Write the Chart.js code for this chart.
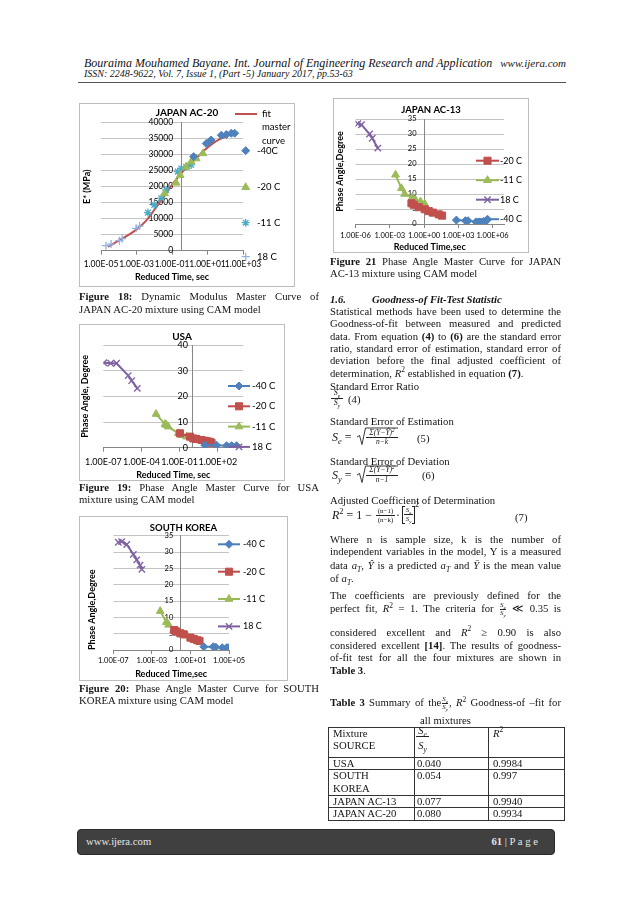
<!DOCTYPE html>
<html><head><meta charset="utf-8">
<script src="https://cdn.jsdelivr.net/npm/chart.js@4.4.1/dist/chart.umd.min.js"></script>
<style>
html,body{margin:0;padding:0;background:#fff}
body{width:638px;height:902px;position:relative;overflow:hidden;font-family:"Liberation Serif","Times New Roman",serif;color:#141414}
.t{position:absolute;font-size:10.7px;line-height:13px;height:13px;white-space:nowrap}
.L{left:79px;width:240px}
.R{left:330px;width:231px}
.j{text-align:justify;text-align-last:justify;white-space:normal}
.ab{position:absolute;white-space:nowrap}
.box{position:absolute;background:#fff}
.box canvas{position:absolute;left:0;top:0}
.box::after{content:"";position:absolute;left:0;top:0;right:0;bottom:0;border:1px solid #bdbdbd;pointer-events:none}
sub,sup{font-size:70%;line-height:0}
.fr{display:inline-flex;flex-direction:column;vertical-align:middle;font-style:italic;font-size:7px;line-height:7.5px;text-align:center;margin:0 1px}
.fr>span:first-child{border-bottom:0.7px solid #222}
.stk{position:absolute;text-align:center;font-style:italic}
.stk>div:first-child{border-bottom:0.8px solid #222}
.hl{position:absolute;height:1px;background:#333}
.vl{position:absolute;width:1px;background:#333}
</style></head>
<body>

<!-- header -->
<div class="ab" style="left:84px;top:55px;font-size:12px;line-height:16px;font-style:italic">Bouraima Mouhamed Bayane. Int. Journal of Engineering Research and Application</div>
<div class="ab" style="left:496px;width:70px;top:56px;font-size:11px;line-height:15px;font-style:italic;text-align:right">www.ijera.com</div>
<div class="ab" style="left:84px;top:67px;font-size:10px;line-height:14px;font-style:italic">ISSN: 2248-9622, Vol. 7, Issue 1, (Part -5) January 2017, pp.53-63</div>
<div class="ab" style="left:78px;top:82px;width:488px;height:1px;background:#555"></div>

<!-- charts -->
<div class="box" style="left:79px;top:103px;width:216px;height:184px"><canvas id="c1" width="216" height="184"></canvas></div>
<div class="box" style="left:79px;top:324px;width:206px;height:157px"><canvas id="c2" width="206" height="157"></canvas></div>
<div class="box" style="left:79px;top:516px;width:209px;height:165px"><canvas id="c3" width="209" height="165"></canvas></div>
<div class="box" style="left:333px;top:98px;width:196px;height:155px"><canvas id="c4" width="196" height="155"></canvas></div>

<!-- left column captions -->
<div class="t L j" style="top:289.5px"><b>Figure 18:</b> Dynamic Modulus Master Curve of</div>
<div class="t L" style="top:302.5px">JAPAN AC-20 mixture using CAM model</div>
<div class="t L j" style="top:480.5px"><b>Figure 19:</b> Phase Angle Master Curve for USA</div>
<div class="t L" style="top:493px">mixture using CAM model</div>
<div class="t L j" style="top:681.5px"><b>Figure 20:</b> Phase Angle Master Curve for SOUTH</div>
<div class="t L" style="top:693.5px">KOREA mixture using CAM model</div>

<!-- right column -->
<div class="t R j" style="top:254.5px"><b>Figure 21</b> Phase Angle Master Curve for JAPAN</div>
<div class="t R" style="top:267px">AC-13 mixture using CAM model</div>
<div class="t" style="left:330px;top:292.5px"><b><i>1.6.</i></b></div>
<div class="t" style="left:372px;top:292.5px"><b><i>Goodness-of Fit-Test Statistic</i></b></div>
<div class="t R j" style="top:305px">Statistical methods have been used to determine the</div>
<div class="t R j" style="top:317.3px">Goodness-of-fit between measured and predicted</div>
<div class="t R j" style="top:329.5px">data. From equation <b>(4)</b> to <b>(6)</b> are the standard error</div>
<div class="t R j" style="top:341.8px">ratio, standard error of estimation, standard error of</div>
<div class="t R j" style="top:354.1px">deviation before the final adjusted coefficient of</div>
<div class="t R" style="top:366.5px">determination, <i>R</i><sup>2</sup> established in equation <b>(7)</b>.</div>
<div class="t R" style="top:380px">Standard Error Ratio</div>
<!-- eq 4 -->
<div class="stk" style="left:331px;top:389px;width:12px;font-size:8px;line-height:8.5px"><div>S<sub>e</sub></div><div>S<sub>y</sub></div></div>
<div class="t" style="left:348px;top:392.5px">(4)</div>
<div class="t R" style="top:415px">Standard Error of Estimation</div>
<!-- eq 5 -->
<div class="ab" style="left:332px;top:429px;font-size:12px;line-height:16px"><i>S</i><sub><i>e</i></sub> =</div>
<svg class="ab" style="left:356px;top:426px" width="44" height="20"><polyline points="1,11 3.5,9.5 6,18.5 9.5,2 42,2" fill="none" stroke="#222" stroke-width="0.9"/></svg>
<div class="stk" style="left:366px;top:428.5px;width:32px;font-size:7.5px;line-height:8.5px"><div>Σ(Y−Ŷ)<sup>2</sup></div><div>n−k</div></div>
<div class="t" style="left:417px;top:431.5px">(5)</div>
<div class="t R" style="top:455px">Standard Error of Deviation</div>
<!-- eq 6 -->
<div class="ab" style="left:332px;top:467px;font-size:12px;line-height:16px"><i>S</i><sub><i>y</i></sub> =</div>
<svg class="ab" style="left:356px;top:464px" width="44" height="20"><polyline points="1,11 3.5,9.5 6,18.5 9.5,2 42,2" fill="none" stroke="#222" stroke-width="0.9"/></svg>
<div class="stk" style="left:366px;top:466px;width:32px;font-size:7.5px;line-height:8.5px"><div>Σ(Y−Ȳ)<sup>2</sup></div><div>n−1</div></div>
<div class="t" style="left:422px;top:468.5px">(6)</div>
<div class="t R" style="top:493.5px">Adjusted Coefficient of Determination</div>
<!-- eq 7 -->
<div class="ab" style="left:332px;top:507px;font-size:12px;line-height:16px"><i>R</i><sup>2</sup> = 1 −</div>
<div class="stk" style="left:376px;top:507px;width:19px;font-size:7px;line-height:8px;font-style:normal"><div>(n−1)</div><div>(n−k)</div></div>
<div class="ab" style="left:396px;top:507px;font-size:12px;line-height:16px">·</div>
<div class="ab" style="left:402px;top:506px;width:2px;height:16px;border:0.9px solid #222;border-right:none"></div>
<div class="stk" style="left:404px;top:506px;width:9px;font-size:7px;line-height:8px"><div>S<sub>e</sub></div><div>S<sub>y</sub></div></div>
<div class="ab" style="left:412px;top:506px;width:2px;height:16px;border:0.9px solid #222;border-left:none"></div>
<div class="ab" style="left:415px;top:500px;font-size:8px;line-height:10px">2</div>
<div class="t" style="left:515px;top:510.5px">(7)</div>

<div class="t R j" style="top:532.5px">Where n is sample size, k is the number of</div>
<div class="t R j" style="top:545px">independent variables in the model, Y is a measured</div>
<div class="t R j" style="top:559px">data <i>a<sub>T</sub></i>, <i>Ŷ</i> is a predicted <i>a<sub>T</sub></i> and <i>Ȳ</i> is the mean value</div>
<div class="t R" style="top:572px">of <i>a<sub>T</sub></i>.</div>
<div class="t R j" style="top:588.5px">The coefficients are previously defined for the</div>
<div class="t R j" style="top:601.5px">perfect fit, <i>R</i><sup>2</sup> = 1. The criteria for <span class="fr"><span>S<sub>e</sub></span><span>S<sub>y</sub></span></span> ≪ 0.35 is</div>
<div class="t R j" style="top:625.5px">considered excellent and <i>R</i><sup>2</sup> ≥ 0.90 is also</div>
<div class="t R j" style="top:638.5px">considered excellent <b>[14]</b>. The results of goodness-</div>
<div class="t R j" style="top:651px">of-fit test for all the four mixtures are shown in</div>
<div class="t R" style="top:664px"><b>Table 3</b>.</div>
<div class="t R j" style="top:695.5px"><b>Table 3</b> Summary of the<span class="fr"><span>S<sub>e</sub></span><span>S<sub>y</sub></span></span>, <i>R</i><sup>2</sup> Goodness-of –fit for</div>
<div class="t R" style="top:713.5px;text-align:center">all mixtures</div>

<!-- table -->
<div class="hl" style="left:328px;top:727px;width:237px"></div>
<div class="hl" style="left:328px;top:757px;width:237px"></div>
<div class="hl" style="left:328px;top:769px;width:237px"></div>
<div class="hl" style="left:328px;top:795px;width:237px"></div>
<div class="hl" style="left:328px;top:807px;width:237px"></div>
<div class="hl" style="left:328px;top:820px;width:237px"></div>
<div class="vl" style="left:328px;top:727px;height:94px"></div>
<div class="vl" style="left:414px;top:727px;height:94px"></div>
<div class="vl" style="left:488px;top:727px;height:94px"></div>
<div class="vl" style="left:564px;top:727px;height:94px"></div>
<div class="t" style="left:333px;top:727px">Mixture</div>
<div class="t" style="left:333px;top:739px">SOURCE</div>
<div class="stk" style="left:416px;top:725px;width:13px;font-size:10.5px;line-height:11px"><div>S<sub>e</sub></div><div style="padding-top:3px">S<sub>y</sub></div></div>
<div class="t" style="left:493px;top:727px"><i>R</i><sup>2</sup></div>
<div class="t" style="left:333px;top:756.5px">USA</div>
<div class="t" style="left:417px;top:756.5px">0.040</div>
<div class="t" style="left:493px;top:756.5px">0.9984</div>
<div class="t" style="left:333px;top:768.5px">SOUTH</div>
<div class="t" style="left:333px;top:781.5px">KOREA</div>
<div class="t" style="left:417px;top:768.5px">0.054</div>
<div class="t" style="left:493px;top:768.5px">0.997</div>
<div class="t" style="left:333px;top:794.5px">JAPAN AC-13</div>
<div class="t" style="left:417px;top:794.5px">0.077</div>
<div class="t" style="left:493px;top:794.5px">0.9940</div>
<div class="t" style="left:333px;top:807px">JAPAN AC-20</div>
<div class="t" style="left:417px;top:807px">0.080</div>
<div class="t" style="left:493px;top:807px">0.9934</div>

<!-- footer -->
<div class="ab" style="left:77px;top:829px;width:478px;height:26px;background:#404040;border:1px solid #2a2a2a;border-radius:4px;box-sizing:border-box"></div>
<div class="ab" style="left:86px;top:835px;font-size:10.7px;line-height:13px;color:#e6e6e6">www.ijera.com</div>
<div class="ab" style="left:440px;width:98px;top:835px;font-size:10.7px;line-height:13px;color:#e6e6e6;text-align:right"><b>61</b> | P a g e</div>

<script>
// ---------------- DATA ----------------
// Figure 18: JAPAN AC-20, dynamic modulus E* (MPa) vs reduced time (s)
const ac20FitTime = [2.4e-5, 4.6e-5, 1.1e-4, 4.0e-4, 1.2e-3, 3.5e-3, 1.0e-2, 3.0e-2, 8.9e-2, 0.27, 0.79, 2.3, 6.9, 20, 60, 180, 430];
const ac20FitE    = [1250, 2080, 3330, 5100, 6980, 9380, 12710, 16360, 20210, 23650, 26460, 28860, 31470, 33550, 35110, 36150, 36680];
const ac20M40Time = [1.66, 8.5, 13, 16, 60, 115, 220, 340];
const ac20M40E    = [29400, 33500, 34100, 34600, 36100, 36300, 36700, 36700];
const ac20M20Time = [0.038, 0.17, 0.29, 0.63, 1.2, 2.3, 5.5];
const ac20M20E    = [17900, 21200, 23600, 26200, 27800, 28800, 30400];
const ac20M11Time = [4.4e-3, 1.0e-2, 2.5e-2, 4.7e-2, 0.21, 0.33, 0.63, 1.2];
const ac20M11E    = [11900, 14300, 16400, 19000, 24700, 25700, 26200, 26800];
const ac20P18Time = [1.9e-5, 3.7e-5, 1.1e-4, 1.55e-4, 9.5e-4, 1.5e-3];
const ac20P18E    = [1560, 2080, 3130, 3750, 6980, 7710];
const ac20XTicks  = ['1.00E-05', '1.00E-03', '1.00E-01', '1.00E+01', '1.00E+03'];
const ac20YTicks  = ['0', '5000', '10000', '15000', '20000', '25000', '30000', '35000', '40000'];

// Figure 19: USA, phase angle (degree) vs reduced time (s)
const usaM40Time = [9.5, 79, 490, 1200, 2950];
const usaM40Deg  = [1.0, 1.0, 0.8, 0.8, 0.8];
const usaM20Time = [0.105, 0.65, 1.17, 2.0, 5.2, 9.5, 14, 24, 32];
const usaM20Deg  = [5.6, 4.3, 3.6, 3.4, 3.0, 2.7, 2.5, 2.3, 1.9];
const usaM11Time = [1.4e-3, 7.1e-3, 9.3e-3, 1.26e-2, 7.8e-2, 0.14, 0.35];
const usaM11Deg  = [13.1, 9.2, 8.8, 8.2, 5.6, 4.9, 4.3];
const usaP18Time = [1.1e-7, 3.8e-7, 1.1e-6, 9.1e-6, 1.7e-5, 4.7e-5];
const usaP18Deg  = [33.1, 32.9, 32.9, 28.1, 26.1, 23.1];
const usaXTicks  = ['1.00E-07', '1.00E-04', '1.00E-01', '1.00E+02'];
const usaYTicks  = ['0', '10', '20', '30', '40'];

// Figure 20: SOUTH KOREA
const skM40Time = [245, 2300, 4100, 2.0e4, 5.8e4, 7.9e4];
const skM40Deg  = [1.0, 1.0, 0.9, 0.7, 0.7, 0.7];
const skM20Time = [0.21, 0.37, 0.91, 2.0, 10, 22, 50, 87];
const skM20Deg  = [6.1, 5.6, 5.1, 4.8, 3.8, 3.4, 3.0, 2.8];
const skM11Time = [7.4e-3, 3.2e-2, 5.5e-2, 0.60, 1.35, 4.5];
const skM11Deg  = [11.9, 8.5, 7.7, 5.6, 4.8, 4.4];
const skP18Time = [3.3e-7, 7.4e-7, 2.5e-6, 1.2e-5, 2.7e-5, 6.0e-5, 9.1e-5];
const skP18Deg  = [33.0, 33.2, 32.3, 29.3, 27.6, 26.0, 24.7];
const skXTicks  = ['1.00E-07', '1.00E-03', '1.00E+01', '1.00E+05'];
const skYTicks  = ['0', '5', '10', '15', '20', '25', '30', '35'];

// Figure 21: JAPAN AC-13
const ac13M20Time = [7.9e-2, 0.126, 0.35, 1.15, 2.6, 5.8, 19.5, 38];
const ac13M20Deg  = [6.9, 6.4, 5.6, 4.9, 4.3, 3.8, 3.2, 2.8];
const ac13M11Time = [3.2e-3, 1.05e-2, 2.0e-2, 9.1e-2, 0.18, 0.49, 1.15];
const ac13M11Deg  = [16.4, 11.9, 10.0, 8.8, 8.0, 7.5, 6.7];
const ac13P18Time = [1.6e-6, 3.3e-6, 1.7e-5, 2.9e-5, 8.9e-5];
const ac13P18Deg  = [33.4, 33.1, 30.0, 28.6, 25.3];
const ac13M40Time = [680, 4200, 7100, 3.5e4, 7.1e4, 1.66e5, 3.3e5];
const ac13M40Deg  = [1.3, 1.1, 1.1, 0.7, 0.7, 0.9, 1.3];
const ac13XTicks  = ['1.00E-06', '1.00E-03', '1.00E+00', '1.00E+03', '1.00E+06'];
const ac13YTicks  = ['0', '5', '10', '15', '20', '25', '30', '35'];

// ---------------- STYLE ----------------
const FONT = 'Lato, "Liberation Sans", sans-serif';
const AXIS = '#868686';
const GRID = '#c4c4c4';

function pts(xs, ys) { return xs.map((x, i) => ({x: x, y: ys[i]})); }

function drawMark(ctx, ds, x, y) {
  const st = ds.pointStyle, r = ds.pointRadius;
  ctx.save();
  ctx.fillStyle = ds.pointBackgroundColor || ds.backgroundColor;
  ctx.strokeStyle = ds.pointBorderColor || ds.borderColor;
  ctx.lineWidth = ds.pointBorderWidth || 1;
  if (Chart.helpers && Chart.helpers.drawPoint) {
    Chart.helpers.drawPoint(ctx, {pointStyle: st, radius: r, rotation: 0, borderWidth: ctx.lineWidth}, x, y);
  }
  ctx.restore();
}

const excelLegend = {
  id: 'excelLegend',
  afterDatasetsDraw(chart, args, o) {
    if (!o || !o.items) return;
    const ctx = chart.ctx;
    ctx.save();
    ctx.font = o.size + 'px ' + FONT;
    ctx.fillStyle = '#000';
    ctx.textBaseline = 'middle';
    ctx.textAlign = 'left';
    o.items.forEach(it => {
      const ds = chart.data.datasets[it.ds];
      const x0 = it.x0 !== undefined ? it.x0 : o.x0;
      const x1 = it.x1 !== undefined ? it.x1 : o.x1;
      if (it.line !== false && ds.showLine) {
        ctx.save();
        ctx.strokeStyle = ds.borderColor; ctx.lineWidth = ds.borderWidth;
        ctx.beginPath(); ctx.moveTo(x0, it.y); ctx.lineTo(x1, it.y); ctx.stroke();
        ctx.restore();
      }
      if (ds.pointRadius > 0) drawMark(ctx, ds, (x0 + x1) / 2, it.y);
      const tx = it.tx !== undefined ? it.tx : o.tx;
      const lines = it.wrap ? ds.label.split(' ') : [ds.label];
      lines.forEach((s, k) => ctx.fillText(s, tx, it.y + k * (it.lh || 0)));
    });
    ctx.restore();
  }
};

function makeChart(id, o) {
  return new Chart(document.getElementById(id), {
    type: 'scatter',
    data: {datasets: o.datasets},
    options: {
      responsive: false, maintainAspectRatio: false, animation: false, events: [],
      layout: {padding: 0},
      plugins: {
        legend: {display: false}, tooltip: {enabled: false},
        title: {display: true, text: o.title, color: '#000', font: {family: FONT, size: o.titleSize, weight: 'bold', lineHeight: 1.2},
                padding: {top: o.tTop, bottom: o.tBot}},
        excelLegend: o.legend
      },
      scales: {
        x: {
          type: 'logarithmic', position: 'bottom', min: o.xMin, max: o.xMax,
          afterBuildTicks: s => { s.ticks = o.xTicks.map(l => ({value: parseFloat(l)})); },
          afterFit: s => { s.height = o.xH; },
          ticks: {autoSkip: false, maxRotation: 0, minRotation: 0, color: '#000', padding: o.xTickPad,
                  font: {family: FONT, size: o.tick, lineHeight: 1.2}, callback: (v, i) => o.xTicks[i]},
          grid: {drawOnChartArea: false, drawTicks: true, tickLength: 4, color: AXIS},
          border: {color: AXIS},
          title: {display: true, text: o.xTitle, color: '#000', font: {family: FONT, size: 9, weight: 'bold', lineHeight: 1.2},
                  padding: {top: 0, bottom: o.xTitlePad}}
        },
        y: {
          type: 'linear', position: {x: o.cross}, min: o.yMin, max: o.yMax,
          afterBuildTicks: s => { s.ticks = o.yTicks.map(l => ({value: parseFloat(l)})); },
          ticks: {color: '#000', padding: 5, font: {family: FONT, size: o.tick}, callback: (v, i) => o.yTicks[i] + o.yGap},
          grid: {color: GRID, drawTicks: true, tickLength: 3},
          border: {color: AXIS}
        },
        yt: {
          type: 'linear', position: 'left', ticks: {display: false}, grid: {display: false}, border: {display: false},
          afterFit: s => { s.width = o.L; },
          title: {display: true, text: o.yTitle, align: o.yAlign || 'center', color: '#000',
                  font: {family: FONT, size: 9, weight: 'bold', lineHeight: 1.2}, padding: {top: o.yTitlePad, bottom: 0}}
        },
        yr: {
          type: 'linear', position: 'right', ticks: {display: false}, grid: {display: false}, border: {display: false},
          afterFit: s => { s.width = o.R; }
        }
      }
    },
    plugins: [excelLegend]
  });
}

function phaseSet(label, xs, ys, kind) {
  const k = {
    m40: {c: '#4A7EBB', f: '#4F81BD', s: 'rectRot', r: 4},
    m20: {c: '#BE4B48', f: '#C0504D', s: 'rect', r: 5},
    m11: {c: '#98B954', f: '#9BBB59', s: 'triangle', r: 4.5},
    p18: {c: '#7D60A0', f: '#8064A2', s: 'crossRot', r: 4.5}
  }[kind];
  return {label: label, data: pts(xs, ys), showLine: true, borderColor: k.c, backgroundColor: k.f, borderWidth: 2,
          pointStyle: k.s, pointRadius: k.r, pointBackgroundColor: k.f, pointBorderColor: k.f,
          pointBorderWidth: kind === 'p18' ? 1.4 : 1, xAxisID: 'x', yAxisID: 'y'};
}

// Figure 18
makeChart('c1', {
  title: 'JAPAN AC-20', titleSize: 10, tTop: 3.7, tBot: 4,
  L: 22, R: 52, xH: 36.3, xTickPad: 4, xTitlePad: 4.9, tick: 8.5, yTitlePad: 2.3, yGap: '\u2002\u2002',
  xMin: 1e-5, xMax: 1e3, xTicks: ac20XTicks, yMin: 0, yMax: 40000, yTicks: ac20YTicks, cross: 0.35,
  xTitle: 'Reduced Time, sec', yTitle: 'E* (MPa)',
  datasets: [
    {label: 'fit master curve', data: pts(ac20FitTime, ac20FitE), showLine: true, borderColor: '#C0504D', borderWidth: 2,
     pointRadius: 0, tension: 0.4, order: 5, xAxisID: 'x', yAxisID: 'y'},
    {label: '-40C', data: pts(ac20M40Time, ac20M40E), pointStyle: 'rectRot', pointRadius: 4, backgroundColor: '#4F81BD',
     borderColor: '#4F81BD', pointBackgroundColor: '#4F81BD', pointBorderColor: '#4F81BD', pointBorderWidth: 1, xAxisID: 'x', yAxisID: 'y'},
    {label: '-20 C', data: pts(ac20M20Time, ac20M20E), pointStyle: 'triangle', pointRadius: 4.5, backgroundColor: '#9BBB59',
     borderColor: '#9BBB59', pointBackgroundColor: '#9BBB59', pointBorderColor: '#9BBB59', pointBorderWidth: 1, xAxisID: 'x', yAxisID: 'y'},
    {label: '-11 C', data: pts(ac20M11Time, ac20M11E), pointStyle: 'star', pointRadius: 4, backgroundColor: '#4BACC6',
     borderColor: '#4BACC6', pointBackgroundColor: '#4BACC6', pointBorderColor: '#4BACC6', pointBorderWidth: 1.3, xAxisID: 'x', yAxisID: 'y'},
    {label: '18 C', data: pts(ac20P18Time, ac20P18E), pointStyle: 'cross', pointRadius: 4, backgroundColor: '#8EB4E3',
     borderColor: '#8EB4E3', pointBackgroundColor: '#8EB4E3', pointBorderColor: '#8EB4E3', pointBorderWidth: 1.3, xAxisID: 'x', yAxisID: 'y'}
  ],
  legend: {size: 9.5, x0: 161.7, x1: 171.7, tx: 178, items: [
    {ds: 0, y: 11, x0: 156, x1: 178, tx: 183, wrap: true, lh: 13.3},
    {ds: 1, y: 47.7}, {ds: 2, y: 84.3}, {ds: 3, y: 119.7}, {ds: 4, y: 153.7}
  ]}
});

// Figure 19
makeChart('c2', {
  title: 'USA', titleSize: 10, tTop: 6.7, tBot: 2.3,
  L: 24.3, R: 41.7, xH: 33.3, xTickPad: 4.6, xTitlePad: 0.6, tick: 9, yTitlePad: 0.6, yGap: '\u2002',
  xMin: 1e-7, xMax: 1e4, xTicks: usaXTicks, yMin: 0, yMax: 40, yTicks: usaYTicks, cross: 1,
  xTitle: 'Reduced Time, sec', yTitle: 'Phase Angle, Degree',
  datasets: [
    phaseSet('-40 C', usaM40Time, usaM40Deg, 'm40'),
    phaseSet('-20 C', usaM20Time, usaM20Deg, 'm20'),
    phaseSet('-11 C', usaM11Time, usaM11Deg, 'm11'),
    phaseSet('18 C', usaP18Time, usaP18Deg, 'p18')
  ],
  legend: {size: 9.5, x0: 149, x1: 171, tx: 173, items: [
    {ds: 0, y: 62}, {ds: 1, y: 82.3}, {ds: 2, y: 102.6}, {ds: 3, y: 122.9}
  ]}
});

// Figure 20
makeChart('c3', {
  title: 'SOUTH KOREA', titleSize: 9.5, tTop: 6.6, tBot: 1.7,
  L: 34.3, R: 59, xH: 31, xTickPad: 2.2, xTitlePad: 1.3, tick: 7.5, yTitlePad: 7.3, yAlign: 'start', yGap: '\u2002\u2002',
  xMin: 1e-7, xMax: 1e5, xTicks: skXTicks, yMin: 0, yMax: 35, yTicks: skYTicks, cross: 1,
  xTitle: 'Reduced Time,sec', yTitle: 'Phase Angle,Degree',
  datasets: [
    phaseSet('-40 C', skM40Time, skM40Deg, 'm40'),
    phaseSet('-20 C', skM20Time, skM20Deg, 'm20'),
    phaseSet('-11 C', skM11Time, skM11Deg, 'm11'),
    phaseSet('18 C', skP18Time, skP18Deg, 'p18')
  ],
  legend: {size: 9, x0: 139, x1: 161, tx: 164, items: [
    {ds: 0, y: 28.3}, {ds: 1, y: 55.7}, {ds: 2, y: 83}, {ds: 3, y: 110.4}
  ]}
});

// Figure 21
makeChart('c4', {
  title: 'JAPAN AC-13', titleSize: 9.5, tTop: 6.3, tBot: 3.3,
  L: 22.5, R: 25, xH: 29, xTickPad: 3.5, xTitlePad: 0.9, tick: 7.5, yTitlePad: 1.6, yGap: '\u2002\u2002',
  xMin: 1e-6, xMax: 1e7, xTicks: ac13XTicks, yMin: 0, yMax: 35, yTicks: ac13YTicks, cross: 1,
  xTitle: 'Reduced Time,sec', yTitle: 'Phase Angle,Degree',
  datasets: [
    phaseSet('-20 C', ac13M20Time, ac13M20Deg, 'm20'),
    phaseSet('-11 C', ac13M11Time, ac13M11Deg, 'm11'),
    phaseSet('18 C', ac13P18Time, ac13P18Deg, 'p18'),
    phaseSet('-40 C', ac13M40Time, ac13M40Deg, 'm40')
  ],
  legend: {size: 9, x0: 143, x1: 166, tx: 167, items: [
    {ds: 0, y: 62.7}, {ds: 1, y: 82.2}, {ds: 2, y: 101.7}, {ds: 3, y: 121.2}
  ]}
});
</script>
</body></html>
